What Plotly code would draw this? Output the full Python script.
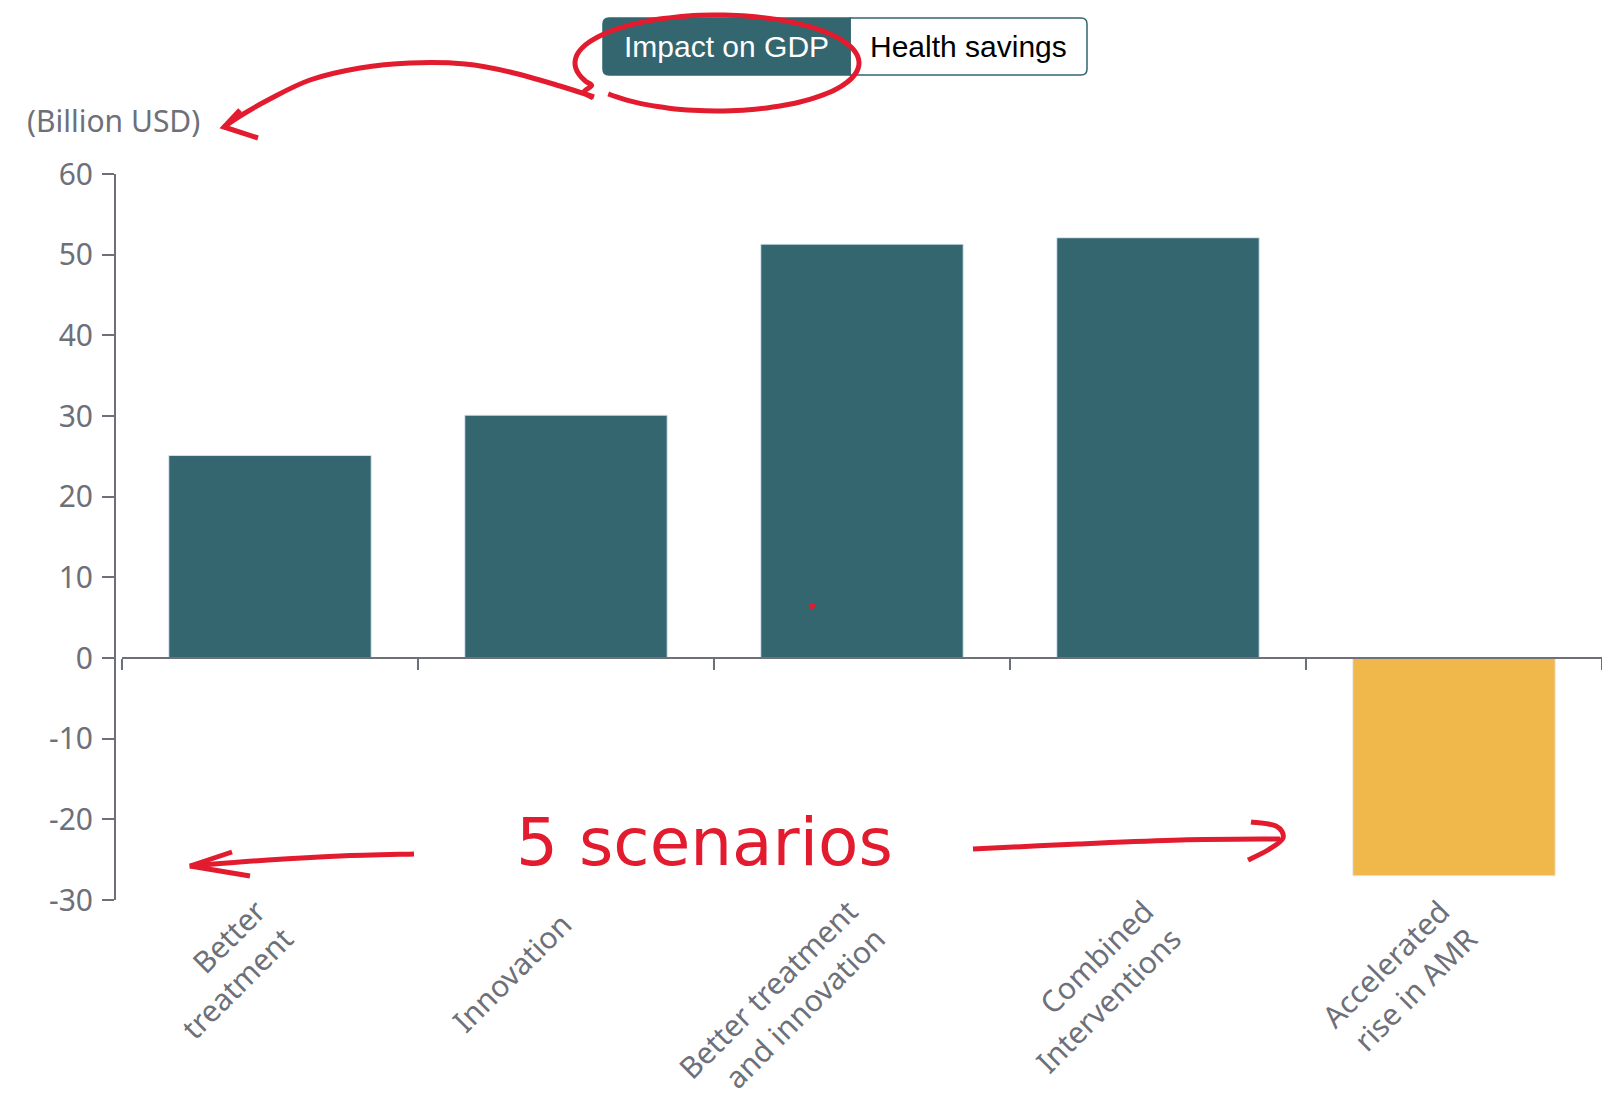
import plotly.graph_objects as go
import numpy as np

# ---------------- data ----------------
categories = ["Better treatment", "Innovation", "Better treatment and innovation",
              "Combined Interventions", "Accelerated rise in AMR"]
tick_labels = ["Better<br>treatment", "Innovation", "Better treatment<br>and innovation",
               "Combined<br>Interventions", "Accelerated<br>rise in AMR"]
gdp_impact = [25.1, 30.1, 51.3, 52.1, -27.0]
bar_colors = ["#33666F", "#33666F", "#33666F", "#33666F", "#F0B74B"]
y_ticks = [-30, -20, -10, 0, 10, 20, 30, 40, 50, 60]
button_labels = ["Impact on GDP", "Health savings"]
y_title = "(Billion USD)"
note_text = "5 scenarios"

# ---------------- geometry helpers ----------------
W, H = 1594, 1096
MT, MB = 166, 204
PH = H - MT - MB
OFF = 8  # body margin of the page


def X(xf):  # full screenshot px -> paper x
    return (xf - OFF) / W


def Y(yf):  # full screenshot px -> paper y
    return (H - MB - (yf - OFF)) / PH


def poly(pts):
    return "M" + " L".join(f"{X(x):.5f},{Y(y):.5f}" for x, y in pts)


def smooth(pts):
    p = [np.array(q, float) for q in pts]
    d = f"M{X(p[0][0]):.5f},{Y(p[0][1]):.5f}"
    n = len(p)
    for i in range(n - 1):
        p0 = p[i - 1] if i > 0 else p[i]
        p1, p2 = p[i], p[i + 1]
        p3 = p[i + 2] if i + 2 < n else p[i + 1]
        c1 = p1 + (p2 - p0) / 6
        c2 = p2 - (p3 - p1) / 6
        d += (f" C{X(c1[0]):.5f},{Y(c1[1]):.5f} {X(c2[0]):.5f},{Y(c2[1]):.5f}"
              f" {X(p2[0]):.5f},{Y(p2[1]):.5f}")
    return d


TEAL = "#33666F"
GRAY = "#6E7079"
RED = "#E31B2F"
AX_FONT = dict(family="Noto Sans, Open Sans, sans-serif", size=30, color=GRAY)

fig = go.Figure()
fig.add_trace(go.Bar(x=categories, y=gdp_impact, marker=dict(color=bar_colors, line=dict(width=0)),
                     xaxis="x", yaxis="y", hoverinfo="x+y", showlegend=False))
# transparent copies to drive the helper category axes
for ax in ("x2", "x3"):
    fig.add_trace(go.Bar(x=categories, y=gdp_impact, marker=dict(color="rgba(0,0,0,0)"),
                         xaxis=ax, yaxis="y", hoverinfo="skip", showlegend=False))

multi_text = [t if "<br>" in t else "" for t in tick_labels]
single_text = [t if "<br>" not in t else "" for t in tick_labels]

x_dom_start = (122 - OFF) / W
common_x = dict(domain=[x_dom_start, 1], range=[-0.5, 4.5], type="category", automargin=False,
                showgrid=False, zeroline=False)
fig.update_layout(
    width=W, height=H,
    margin=dict(l=0, r=0, t=MT, b=MB, autoexpand=False),
    paper_bgcolor="white", plot_bgcolor="white",
    bargap=0.316, barmode="group",
    xaxis=dict(**common_x, showline=False, ticks="", tickangle=-45, tickfont=AX_FONT,
               tickmode="array", tickvals=categories, ticktext=multi_text,
               ticklabelshift=-13, ticklabelstandoff=-13),
    xaxis3=dict(**common_x, overlaying="x", anchor="y", side="bottom", showline=False, ticks="",
                tickangle=-45, tickfont=AX_FONT, tickmode="array", tickvals=categories,
                ticktext=single_text, ticklabelshift=-3, ticklabelstandoff=0),
    xaxis2=dict(**common_x, overlaying="x", anchor="free", position=1 / 3, showline=True,
                linecolor=GRAY, linewidth=2, ticks="outside", tickson="boundaries", ticklen=11,
                tickwidth=2, tickcolor=GRAY, showticklabels=False),
    yaxis=dict(range=[-30, 60], tickmode="array", tickvals=y_ticks, ticktext=[str(v) for v in y_ticks],
               anchor="free", position=X(115), automargin=False,
               showline=True, linecolor=GRAY, linewidth=2, ticks="outside", ticklen=12,
               tickwidth=2, tickcolor=GRAY, showgrid=False, zeroline=False,
               tickfont=AX_FONT, ticklabelstandoff=3),
)

shapes = []
annotations = []

# ---- toggle buttons ----
bx0, bmid, bx1, by0, by1, r = 603, 850, 1087, 18, 75, 6
left_btn = (f"M{X(bx0 + r)},{Y(by0)} L{X(bmid)},{Y(by0)} L{X(bmid)},{Y(by1)} L{X(bx0 + r)},{Y(by1)} "
            f"Q{X(bx0)},{Y(by1)} {X(bx0)},{Y(by1 - r)} L{X(bx0)},{Y(by0 + r)} "
            f"Q{X(bx0)},{Y(by0)} {X(bx0 + r)},{Y(by0)} Z")
right_btn = (f"M{X(bmid)},{Y(by0)} L{X(bx1 - r)},{Y(by0)} Q{X(bx1)},{Y(by0)} {X(bx1)},{Y(by0 + r)} "
             f"L{X(bx1)},{Y(by1 - r)} Q{X(bx1)},{Y(by1)} {X(bx1 - r)},{Y(by1)} L{X(bmid)},{Y(by1)} Z")
shapes.append(dict(type="path", xref="paper", yref="paper", path=right_btn,
                   fillcolor="white", line=dict(color=TEAL, width=1.5)))
shapes.append(dict(type="path", xref="paper", yref="paper", path=left_btn,
                   fillcolor=TEAL, line=dict(color=TEAL, width=1.5)))
annotations.append(dict(text=button_labels[0], x=X((bx0 + bmid) / 2), y=Y(47), xref="paper", yref="paper",
                        showarrow=False, xanchor="center", yanchor="middle",
                        font=dict(family="Liberation Sans, Arial, sans-serif", size=30, color="white")))
annotations.append(dict(text=button_labels[1], x=X((bmid + bx1) / 2), y=Y(47), xref="paper", yref="paper",
                        showarrow=False, xanchor="center", yanchor="middle",
                        font=dict(family="Liberation Sans, Arial, sans-serif", size=30, color="black")))

# ---- axis name ----
annotations.append(dict(text=y_title, x=X(25), y=Y(121), xref="paper", yref="paper",
                        showarrow=False, xanchor="left", yanchor="middle", font=AX_FONT))

# ---- red hand-drawn markup ----
red_line = dict(color=RED, width=5)
t = np.radians(np.linspace(140, -208, 70))
ell = [(717 + 142 * np.cos(a), 63 + 48 * np.sin(a)) for a in t] + [(584, 92), (593, 98)]
shapes.append(dict(type="path", xref="paper", yref="paper", path=smooth(ell), line=red_line))

arrow1 = [(594, 97), (560, 86), (510, 72), (465, 64), (410, 63), (360, 68), (310, 80),
          (268, 100), (240, 116), (224, 127)]
shapes.append(dict(type="path", xref="paper", yref="paper", path=smooth(arrow1), line=red_line))
shapes.append(dict(type="path", xref="paper", yref="paper",
                   path=poly([(240, 110), (224, 127), (258, 138)]), line=red_line))

arrow2 = [(414, 854), (340, 856), (268, 860), (190, 866)]
shapes.append(dict(type="path", xref="paper", yref="paper", path=smooth(arrow2), line=red_line))
shapes.append(dict(type="path", xref="paper", yref="paper",
                   path=poly([(232, 852), (190, 866), (250, 876)]), line=red_line))

arrow3 = [(973, 849), (1078, 844), (1181, 840), (1280, 839)]
shapes.append(dict(type="path", xref="paper", yref="paper", path=smooth(arrow3), line=red_line))
shapes.append(dict(type="path", xref="paper", yref="paper",
                   path=smooth([(1251, 822), (1276, 826), (1283, 838), (1268, 850), (1248, 860)]),
                   line=red_line))

shapes.append(dict(type="circle", xref="paper", yref="paper", x0=X(809), x1=X(815), y0=Y(603), y1=Y(609),
                   fillcolor=RED, line=dict(width=0)))

annotations.append(dict(text=note_text, x=X(704), y=Y(842), xref="paper", yref="paper",
                        showarrow=False, xanchor="center", yanchor="middle",
                        font=dict(family="DejaVu Sans, sans-serif", size=66, color=RED)))

fig.update_layout(shapes=shapes, annotations=annotations)

fig.write_html("out.html")
